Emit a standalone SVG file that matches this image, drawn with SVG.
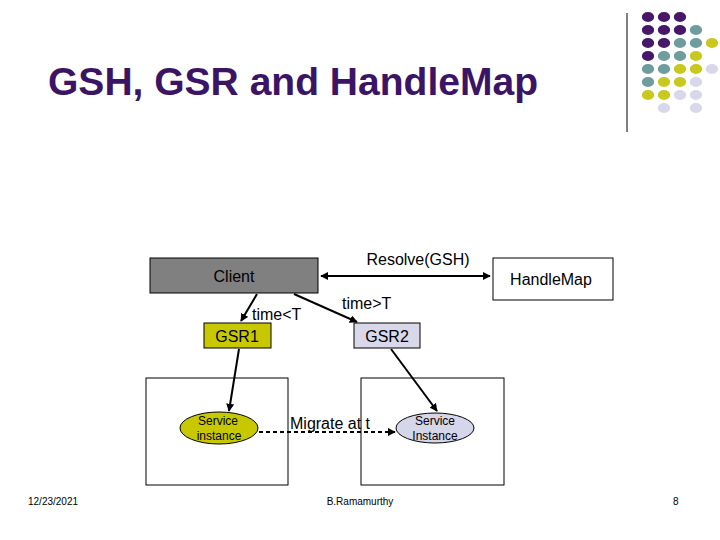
<svg xmlns="http://www.w3.org/2000/svg" width="720" height="540" viewBox="0 0 720 540">
<defs>
<style>
text{font-family:"Liberation Sans",Arial,sans-serif;fill:#000}
.box{stroke:#000;stroke-width:1}
.ln{stroke:#000;stroke-width:2;fill:none}
.P{fill:#47186a}.T{fill:#6f9c9c}.Y{fill:#c8c81e}.L{fill:#d8d8ea}
</style>
<marker id="ah" viewBox="0 0 10 10" refX="9" refY="5" markerWidth="4" markerHeight="4" orient="auto-start-reverse"><path d="M0,0L10,5L0,10z" fill="#000"/></marker>
</defs>
<rect width="720" height="540" fill="#fff"/>
<g id="deco">
<line x1="627" y1="13" x2="627" y2="132" stroke="#000" stroke-width="1"/>
<g transform="translate(648,17) scale(1.23,1) translate(-648,-17)">
<circle class="P" cx="648" cy="17" r="5"/><circle class="P" cx="661" cy="17" r="5"/><circle class="P" cx="674" cy="17" r="5"/>
<circle class="P" cx="648" cy="30" r="5"/><circle class="P" cx="661" cy="30" r="5"/><circle class="P" cx="674" cy="30" r="5"/><circle class="T" cx="687" cy="30" r="5"/>
<circle class="P" cx="648" cy="43" r="5"/><circle class="P" cx="661" cy="43" r="5"/><circle class="T" cx="674" cy="43" r="5"/><circle class="T" cx="687" cy="43" r="5"/><circle class="Y" cx="700" cy="43" r="5"/>
<circle class="P" cx="648" cy="56" r="5"/><circle class="T" cx="661" cy="56" r="5"/><circle class="T" cx="674" cy="56" r="5"/><circle class="Y" cx="687" cy="56" r="5"/>
<circle class="T" cx="648" cy="69" r="5"/><circle class="T" cx="661" cy="69" r="5"/><circle class="Y" cx="674" cy="69" r="5"/><circle class="Y" cx="687" cy="69" r="5"/><circle class="L" cx="700" cy="69" r="5"/>
<circle class="T" cx="648" cy="82" r="5"/><circle class="Y" cx="661" cy="82" r="5"/><circle class="Y" cx="674" cy="82" r="5"/><circle class="L" cx="687" cy="82" r="5"/>
<circle class="Y" cx="648" cy="95" r="5"/><circle class="Y" cx="661" cy="95" r="5"/><circle class="L" cx="674" cy="95" r="5"/><circle class="L" cx="687" cy="95" r="5"/>
<circle class="L" cx="661" cy="108" r="5"/><circle class="L" cx="687" cy="108" r="5"/>
</g>
</g>
<text x="48" y="95" font-size="38" font-weight="bold" textLength="490" lengthAdjust="spacingAndGlyphs" style="fill:#3b1466">GSH, GSR and HandleMap</text>
<g id="box1"><rect class="box" x="146" y="378" width="142" height="107" fill="none"/></g>
<g id="box2"><rect class="box" x="361" y="378" width="143" height="107" fill="none"/></g>
<g id="client"><rect class="box" x="150" y="258" width="168" height="35" fill="#808080"/><text x="234" y="282" font-size="16" text-anchor="middle">Client</text></g>
<g id="handlemap"><rect class="box" x="493" y="258" width="120" height="42" fill="#fff"/><text x="551" y="285" font-size="16" text-anchor="middle">HandleMap</text></g>
<g id="gsr1"><rect class="box" x="204" y="323" width="67" height="25" fill="#c8c800"/><text x="237" y="342" font-size="16" text-anchor="middle">GSR1</text></g>
<g id="gsr2"><rect class="box" x="354" y="323" width="66" height="25" fill="#d8d8ea"/><text x="387" y="342" font-size="16" text-anchor="middle">GSR2</text></g>
<g id="si1"><ellipse class="box" cx="219" cy="428" rx="39" ry="16" fill="#c8c800"/><text x="218" y="425" font-size="12" text-anchor="middle" fill="#333">Service</text><text x="219" y="440" font-size="12" text-anchor="middle">instance</text></g>
<g id="si2"><ellipse class="box" cx="435" cy="428" rx="39" ry="15" fill="#d6d6ea"/><text x="435" y="425" font-size="12" text-anchor="middle">Service</text><text x="435" y="440" font-size="12" text-anchor="middle">Instance</text></g>
<g id="connectors">
<line class="ln" x1="321" y1="276" x2="490" y2="276" marker-start="url(#ah)" marker-end="url(#ah)"/>
<line class="ln" x1="257" y1="294" x2="241" y2="321" marker-end="url(#ah)"/>
<line class="ln" x1="294" y1="294" x2="357" y2="322" marker-end="url(#ah)"/>
<line class="ln" x1="239" y1="349" x2="229" y2="411" marker-end="url(#ah)"/>
<line class="ln" x1="391" y1="349" x2="437" y2="411" marker-end="url(#ah)"/>
<line class="ln" x1="259" y1="432" x2="395" y2="432" stroke-dasharray="4,3" marker-end="url(#ah)"/>
</g>
<text x="418" y="265" font-size="16" text-anchor="middle">Resolve(GSH)</text>
<text x="252" y="320" font-size="16">time&lt;T</text>
<text x="342" y="309" font-size="16">time&gt;T</text>
<text x="290" y="429" font-size="16">Migrate at t</text>
<text x="28" y="505" font-size="10">12/23/2021</text>
<text x="360" y="505" font-size="10" text-anchor="middle">B.Ramamurthy</text>
<text x="673" y="505" font-size="10">8</text>
</svg>
